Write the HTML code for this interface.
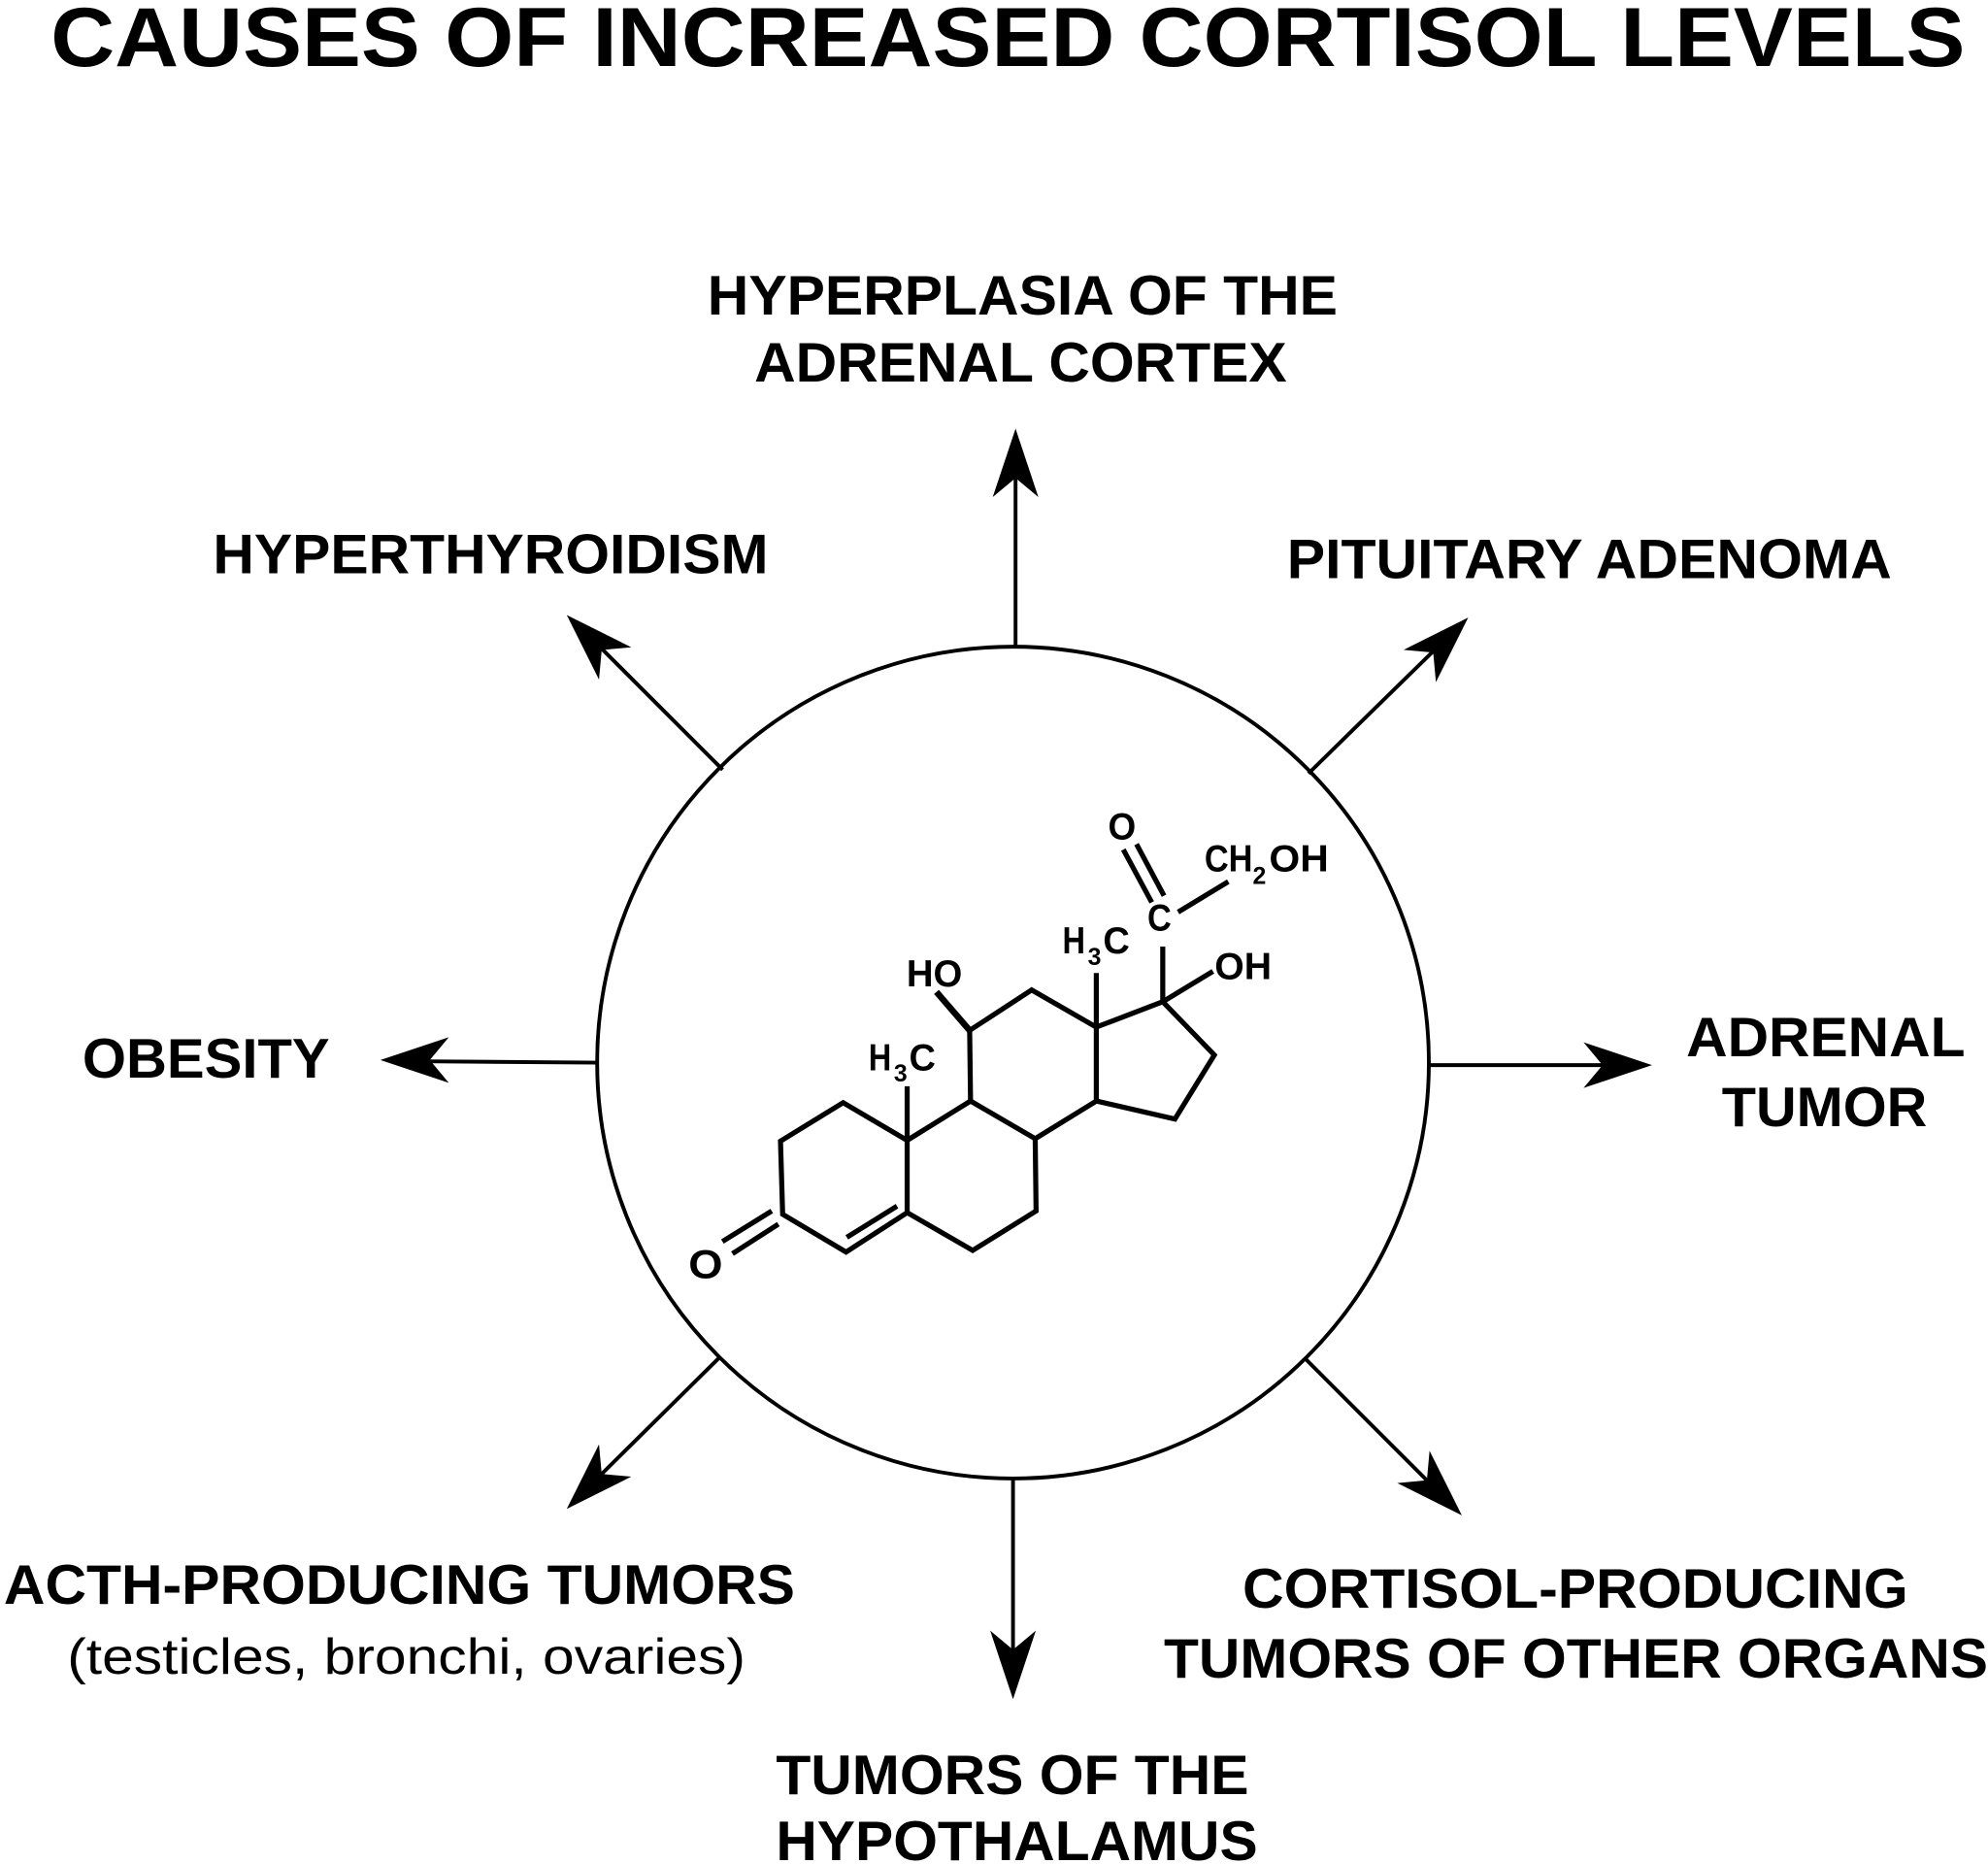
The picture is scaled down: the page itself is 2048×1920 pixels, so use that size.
<!DOCTYPE html>
<html><head><meta charset="utf-8"><style>
html,body{margin:0;padding:0;background:#fff;}
svg{display:block;}
text{font-family:"Liberation Sans",sans-serif;font-weight:bold;fill:#000;}
</style></head><body>
<svg width="2048" height="1920" viewBox="0 0 1568 1470" xmlns="http://www.w3.org/2000/svg">
<defs>
<path id="ah" d="M0,0 L-54,-18 L-39,0 L-54,18 Z" fill="#000"/>
</defs>
<text x="40" y="52" font-size="66" textLength="1510" lengthAdjust="spacingAndGlyphs">CAUSES OF INCREASED CORTISOL LEVELS</text>

<circle cx="799" cy="838" r="328" fill="none" stroke="#000" stroke-width="3"/>

<g stroke="#000" stroke-width="3" fill="none">
<line x1="801" y1="510" x2="801" y2="375"/>
<line x1="570" y1="607" x2="475" y2="512"/>
<line x1="1032" y1="610" x2="1130" y2="514"/>
<line x1="471" y1="838" x2="335" y2="837"/>
<line x1="1127" y1="840" x2="1268" y2="840"/>
<line x1="568" y1="1070" x2="474" y2="1163"/>
<line x1="1030" y1="1072" x2="1126" y2="1168"/>
<line x1="799" y1="1166" x2="799" y2="1305"/>
</g>
<use href="#ah" transform="translate(801,338) rotate(-90)"/>
<use href="#ah" transform="translate(447,485) rotate(-135)"/>
<use href="#ah" transform="translate(1158,487) rotate(-45)"/>
<use href="#ah" transform="translate(300,836) rotate(180)"/>
<use href="#ah" transform="translate(1303,840)"/>
<use href="#ah" transform="translate(447,1190) rotate(135)"/>
<use href="#ah" transform="translate(1153,1195) rotate(45)"/>
<use href="#ah" transform="translate(799,1340) rotate(90)"/>

<g font-size="44">
<text x="558" y="248" textLength="497" lengthAdjust="spacingAndGlyphs">HYPERPLASIA OF THE</text>
<text x="595" y="301" textLength="420" lengthAdjust="spacingAndGlyphs">ADRENAL CORTEX</text>
<text x="168" y="452" textLength="438" lengthAdjust="spacingAndGlyphs">HYPERTHYROIDISM</text>
<text x="1015" y="456" textLength="477" lengthAdjust="spacingAndGlyphs">PITUITARY ADENOMA</text>
<text x="65" y="850" textLength="195" lengthAdjust="spacingAndGlyphs">OBESITY</text>
<text x="1330" y="833" textLength="220" lengthAdjust="spacingAndGlyphs">ADRENAL</text>
<text x="1358" y="888" textLength="162" lengthAdjust="spacingAndGlyphs">TUMOR</text>
<text x="3" y="1265" textLength="624" lengthAdjust="spacingAndGlyphs">ACTH-PRODUCING TUMORS</text>
<text x="980" y="1268" textLength="525" lengthAdjust="spacingAndGlyphs">CORTISOL-PRODUCING</text>
<text x="918" y="1323" textLength="650" lengthAdjust="spacingAndGlyphs">TUMORS OF OTHER ORGANS</text>
<text x="612" y="1415" textLength="373" lengthAdjust="spacingAndGlyphs">TUMORS OF THE</text>
<text x="612" y="1467" textLength="380" lengthAdjust="spacingAndGlyphs">HYPOTHALAMUS</text>
</g>
<text x="53" y="1320" font-size="40" style="font-weight:normal" textLength="535" lengthAdjust="spacingAndGlyphs">(testicles, bronchi, ovaries)</text>

<g stroke="#000" stroke-width="4" fill="none" stroke-linejoin="miter">
<polygon points="665,869.6 615.6,899.9 617.3,957.6 667.3,987.4 715.5,956.3 715.5,899.3"/>
<polyline points="715.5,899.3 765.5,868.3 816.5,898 817.2,955 767.2,986.1 715.5,956.3"/>
<polyline points="765.5,868.3 764.8,812.6 813.7,780.7 864.7,810 864.7,868.3 816.5,898"/>
<polyline points="864.7,810 917.1,790 957.8,832 926.7,882.5 864.7,868.3"/>
<line x1="715.5" y1="899.3" x2="715.5" y2="856.6"/>
<line x1="864.7" y1="810" x2="864.7" y2="767.3"/>
<line x1="764.8" y1="812.6" x2="738.6" y2="782.3" stroke-width="5"/>
<line x1="917.1" y1="790" x2="956.7" y2="766"/>
<line x1="917.1" y1="790" x2="917.1" y2="746.5"/>
<line x1="896.4" y1="665.7" x2="918.1" y2="706.4"/>
<line x1="886" y1="670" x2="908.4" y2="711.6"/>
<line x1="929.2" y1="719.3" x2="968.8" y2="695.3"/>
<line x1="667.9" y1="975.8" x2="707.5" y2="951.2"/>
<line x1="608.7" y1="955" x2="569.8" y2="979.1"/>
<line x1="613.9" y1="965.4" x2="577.7" y2="988.7"/>
</g>
<g font-size="30">
<text x="685" y="844" textLength="18" lengthAdjust="spacingAndGlyphs">H</text><text x="705" y="853" font-size="19">3</text><text x="717" y="844" textLength="21" lengthAdjust="spacingAndGlyphs">C</text>
<text x="838" y="752" textLength="18" lengthAdjust="spacingAndGlyphs">H</text><text x="858" y="761" font-size="19">3</text><text x="870" y="752" textLength="21" lengthAdjust="spacingAndGlyphs">C</text>
<text x="715" y="778" textLength="44" lengthAdjust="spacingAndGlyphs">HO</text>
<text x="958" y="772" textLength="45" lengthAdjust="spacingAndGlyphs">OH</text>
<text x="905" y="734" textLength="19" lengthAdjust="spacingAndGlyphs">C</text>
<text x="874" y="662" textLength="22" lengthAdjust="spacingAndGlyphs">O</text>
<text x="950" y="687" textLength="38" lengthAdjust="spacingAndGlyphs">CH</text><text x="988" y="697" font-size="19">2</text><text x="1001" y="687" textLength="47" lengthAdjust="spacingAndGlyphs">OH</text>
<text x="543" y="1008" font-size="32" textLength="27" lengthAdjust="spacingAndGlyphs">O</text>
</g>
</svg>
</body></html>
